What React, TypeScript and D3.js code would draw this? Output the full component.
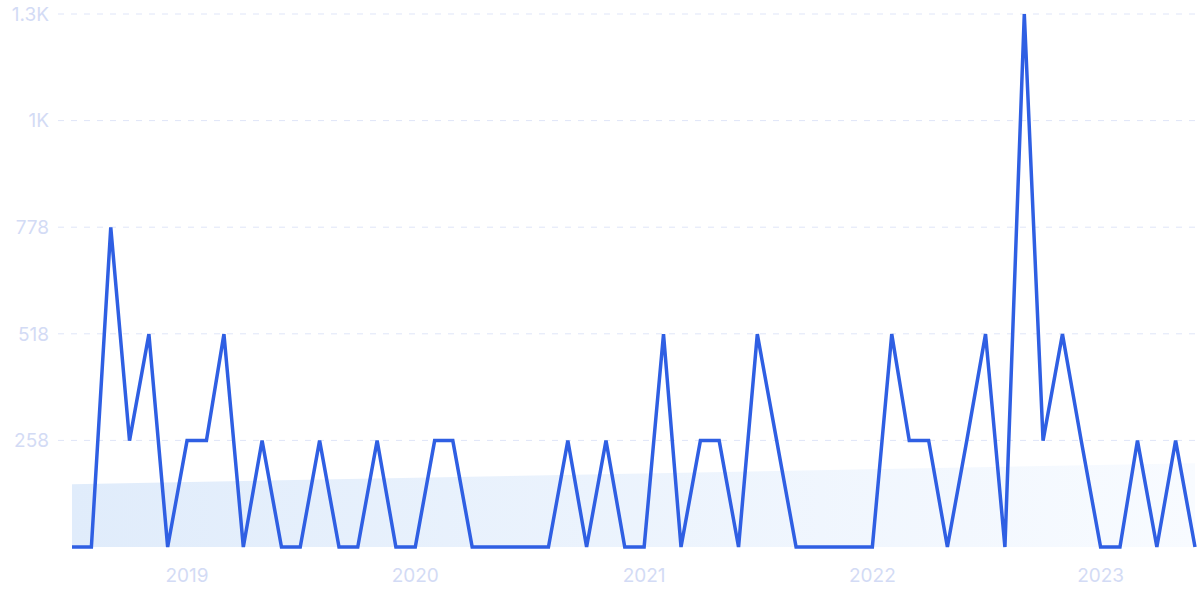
import React from "react";
import * as d3 from "d3";

const months: string[] = [
  "2018-07","2018-08","2018-09","2018-10","2018-11","2018-12",
  "2019-01","2019-02","2019-03","2019-04","2019-05","2019-06","2019-07","2019-08","2019-09","2019-10","2019-11","2019-12",
  "2020-01","2020-02","2020-03","2020-04","2020-05","2020-06","2020-07","2020-08","2020-09","2020-10","2020-11","2020-12",
  "2021-01","2021-02","2021-03","2021-04","2021-05","2021-06","2021-07","2021-08","2021-09","2021-10","2021-11","2021-12",
  "2022-01","2022-02","2022-03","2022-04","2022-05","2022-06","2022-07","2022-08","2022-09","2022-10","2022-11","2022-12",
  "2023-01","2023-02","2023-03","2023-04","2023-05","2023-06",
];
const values: number[] = [
  0, 0, 778, 259, 518, 0,
  259, 259, 518, 0, 259, 0, 0, 259, 0, 0, 259, 0,
  0, 259, 259, 0, 0, 0, 0, 0, 259, 0, 259, 0,
  0, 518, 0, 259, 259, 0, 518, 259, 0, 0, 0, 0,
  0, 518, 259, 259, 0, 259, 518, 0, 1297, 259, 518, 259,
  0, 0, 259, 0, 259, 0,
];
const trendValues: number[] = [153, 204];
const yTickValues: number[] = [259.4, 518.8, 778.2, 1037.6, 1297];
const yTickLabels: string[] = ["258", "518", "778", "1K", "1.3K"];
const xTickYears: number[] = [2019, 2020, 2021, 2022, 2023];

const parse = d3.timeParse("%Y-%m");

export default function App() {
  const W = 1200, H = 600;
  const dates = months.map((m) => parse(m) as Date);
  const x = d3.scaleTime().domain([dates[0], dates[dates.length - 1]]).range([72, 1195]);
  const y = d3.scaleLinear().domain([0, 1297]).range([547, 14]);
  const data = dates.map((d, i) => ({ d, v: values[i] }));
  const line = d3.line<{ d: Date; v: number }>().x((p) => x(p.d)).y((p) => y(p.v));
  const trend = [
    { d: dates[0], v: trendValues[0] },
    { d: dates[dates.length - 1], v: trendValues[1] },
  ];
  const area = d3
    .area<{ d: Date; v: number }>()
    .x((p) => x(p.d))
    .y0(y(0))
    .y1((p) => y(p.v));
  const font = "Inter, 'Open Sans', sans-serif";
  return (
    <svg width={W} height={H} style={{ position: "absolute", left: 0, top: 0, background: "#fff" }}>
      <defs>
        <linearGradient id="tg" x1="0" x2="1" y1="0" y2="0">
          <stop offset="0%" stopColor="#e0ecfb" />
          <stop offset="100%" stopColor="#f8fbff" />
        </linearGradient>
      </defs>
      {yTickValues.map((t, i) => (
        <g key={i}>
          <line x1={58} x2={1200} y1={y(t)} y2={y(t)} stroke="#dfe5f8" strokeWidth={1} strokeDasharray="6 7" />
          <text x={49} y={y(t)} dy="0.36em" textAnchor="end" fill="#d3dbf5" fontSize={19} fontFamily={font}>
            {yTickLabels[i]}
          </text>
        </g>
      ))}
      <path d={area(trend) || ""} fill="url(#tg)" />
      <path d={line(data) || ""} fill="none" stroke="#2f5fe3" strokeWidth={3.5} strokeLinejoin="miter" />
      {xTickYears.map((yr) => (
        <text key={yr} x={x(new Date(yr, 0, 1))} y={582} textAnchor="middle" fill="#d3dbf5" fontSize={19} fontFamily={font}>
          {yr}
        </text>
      ))}
    </svg>
  );
}
